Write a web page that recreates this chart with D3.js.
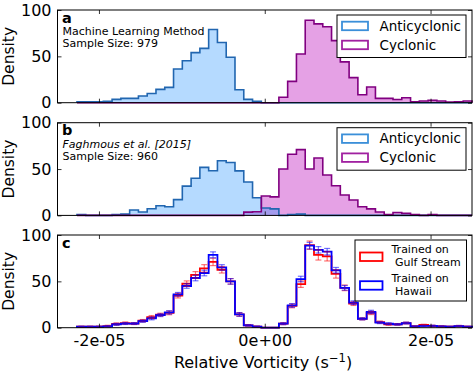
<!DOCTYPE html>
<html>
<head>
<meta charset="utf-8">
<script src="https://cdnjs.cloudflare.com/ajax/libs/d3/7.8.5/d3.min.js"></script>
<style>
body { margin: 0; background: #fff; }
svg { display: block; font-family: "DejaVu Sans", sans-serif; }
text { white-space: pre; }
</style>
</head>
<body>
<svg id="chart" width="474" height="373"></svg>
<script>
// shared histogram bins (same edges in all three panels)
var binStart = -2.265e-5, binWidth = 1.0589e-6, binCount = 45;

// panel a : machine learning method
var mlAnti = [1, 1, 1, 1.5, 3.6, 4.7, 4.7, 7.2, 10, 14.4,
  16.5, 36.3, 45.3, 54, 58.6, 79, 65, 49, 14, 3.6,
  1.5, 0, 0, 0, 0, 0, 0, 0, 0, 0,
  0, 0, 0, 0, 0, 0, 0, 0, 0, 0,
  0, 0, 0, 0, 0];
var mlCyc = [0, 0, 0, 0, 0, 0, 0, 0, 0, 0,
  0, 0, 0, 0, 0, 0, 0, 0, 0, 0,
  0, 0, 0, 5.8, 23, 52.5, 89, 85, 82, 67,
  44, 27, 8.5, 17, 4.7, 4.7, 3.5, 5.4, 1, 1.8,
  2.5, 1.8, 0.7, 1, 1.8];

// panel b : Faghmous et al. [2015]
var fagAnti = [1, 0, 0, 0, 1, 1.4, 5.8, 3.6, 7.2, 10.4,
  9.4, 17, 31.6, 40, 51.8, 48.2, 59, 57, 48, 36,
  19, 8, 7, 0, 1, 1.4, 0, 0, 0, 0,
  0, 0, 0, 0, 0, 0, 0, 0, 0, 0,
  0, 0, 0, 0, 0];
var fagCyc = [0, 0, 0, 0, 0, 0, 0, 0, 0, 0,
  0, 0, 0, 0, 0, 0, 0, 0, 0, 3.5,
  4, 21, 20, 50, 66, 71, 50, 62, 43.6, 32,
  22, 16.6, 9.4, 7, 3.6, 1, 3.2, 2.2, 1, 0,
  1, 0, 0, 0, 0];

// panel c : trained on Gulf Stream vs Hawaii
var gulf = [1, 1, 1, 1.8, 4, 5, 4.5, 7.5, 11.5, 14,
  16, 34.6, 47.5, 57, 64, 71, 62.5, 50, 14.3, 2.5,
  1.2, 0, 0, 4.3, 23.5, 47, 89, 78.5, 77, 58,
  43, 26, 9.6, 16, 6, 3.6, 3.6, 5, 1.4, 2.9,
  2, 1.4, 1, 1.8, 1];
var gulfErr = [0.5, 0.5, 0.5, 0.8, 1.2, 1.2, 1, 1.3, 1.6, 1.6,
  2, 2.5, 3, 3.5, 4, 4, 3.5, 3, 2, 0.8,
  0.5, 0, 0, 1, 2, 3.5, 4.5, 5.5, 5, 4.5,
  3, 2, 1.2, 1.8, 1.2, 1, 0.8, 1, 0.5, 0.8,
  0.7, 0.5, 0.4, 0.6, 0.4];
var hawaii = [1, 1, 1, 1.5, 3.6, 4.5, 4.5, 7, 10, 13.5,
  16.5, 36, 45, 53.6, 59, 78.6, 65, 50, 14.3, 2.5,
  1.2, 0, 0, 4.3, 24, 52.5, 88.5, 84, 82, 62,
  43, 27, 9.6, 17, 5.4, 4.3, 3.6, 5, 1.4, 2,
  2, 1.4, 1, 1.8, 1];
var hawaiiErr = [0.5, 0.5, 0.5, 0.7, 1, 1, 1, 1.2, 1.5, 1.5,
  1.8, 2, 2.5, 3, 3, 3.2, 3, 3, 2, 0.8,
  0.5, 0, 0, 1, 2, 3, 3.5, 3.5, 3.5, 3,
  2.5, 2, 1.2, 1.8, 1, 1, 0.8, 1, 0.5, 0.7,
  0.7, 0.5, 0.4, 0.6, 0.4];

var xTicks = [-2e-5, 0, 2e-5];
var xTickLabels = ["-2e-05", "0e+00", "2e-05"];
var yTicks = [0, 50, 100];

var svg = d3.select("#chart");
var left = 57.5, right = 472, panelH = 92.7;
var panelTops = [10, 122.7, 235];

var x = d3.scaleLinear().domain([-2.5e-5, 2.5e-5]).range([left, right]);
var edges = d3.range(binCount + 1).map(function(i) { return binStart + i * binWidth; });

function stepPath(y, vals) {
  var p = "M" + x(edges[0]) + "," + y(0);
  vals.forEach(function(v, i) {
    p += "L" + x(edges[i]) + "," + y(v) + "L" + x(edges[i + 1]) + "," + y(v);
  });
  return p + "L" + x(edges[binCount]) + "," + y(0);
}

function makePanel(top, letter, bottomLabels) {
  var y = d3.scaleLinear().domain([0, 100]).range([top + panelH, top]);
  var g = svg.append("g");
  var axes = svg.append("g");

  axes.append("g").attr("transform", "translate(0," + (top + panelH) + ")")
    .call(d3.axisBottom(x).tickValues(xTicks).tickSize(-4).tickPadding(7)
      .tickFormat(function(d, i) { return bottomLabels ? xTickLabels[i] : ""; }));
  axes.append("g").attr("transform", "translate(0," + top + ")")
    .call(d3.axisTop(x).tickValues(xTicks).tickSize(-4).tickFormat(""));
  axes.append("g").attr("transform", "translate(" + left + ",0)")
    .call(d3.axisLeft(y).tickValues(yTicks).tickSize(-4).tickPadding(6));
  axes.append("g").attr("transform", "translate(" + right + ",0)")
    .call(d3.axisRight(y).tickValues(yTicks).tickSize(-4).tickFormat(""));
  axes.selectAll(".domain").remove();
  axes.selectAll(".tick line").attr("stroke", "#000").attr("stroke-width", 0.8);
  axes.selectAll(".tick text").attr("font-size", 16).attr("font-family", "DejaVu Sans").attr("fill", "#000");
  axes.selectAll("g").attr("font-family", null).attr("font-size", null);

  axes.append("rect").attr("x", left).attr("y", top)
    .attr("width", right - left).attr("height", panelH)
    .attr("fill", "none").attr("stroke", "#000").attr("stroke-width", 1);

  svg.append("text").attr("transform", "translate(14," + (top + panelH / 2) + ") rotate(-90)")
    .attr("text-anchor", "middle").attr("font-size", 15.5).text("Density");

  svg.append("text").attr("x", left + 4.5).attr("y", top + 12.5)
    .attr("font-size", 14.5).attr("font-weight", "bold").text(letter);

  return {y: y, g: g, top: top};
}

function legend(top, x0, w, h, items, fontSize) {
  var lg = svg.append("g");
  lg.append("rect").attr("x", x0).attr("y", top).attr("width", w).attr("height", h)
    .attr("fill", "#fff").attr("stroke", "#000").attr("stroke-width", 1);
  items.forEach(function(it) {
    lg.append("rect").attr("x", it.px).attr("y", top + it.py).attr("width", it.pw).attr("height", 8.5)
      .attr("fill", "#fff").attr("stroke", it.color).attr("stroke-width", 1.8);
    it.lines.forEach(function(t, j) {
      lg.append("text").attr("x", it.tx).attr("y", top + it.ty[j])
        .attr("font-size", fontSize).text(t);
    });
  });
}

function histPanel(p, anti, cyc, title, italic, size) {
  p.g.append("path").attr("d", stepPath(p.y, cyc)).attr("fill", "rgba(190,20,190,0.4)").attr("stroke", "none");
  p.g.append("path").attr("d", stepPath(p.y, anti)).attr("fill", "rgba(30,144,255,0.33)").attr("stroke", "none");
  p.g.append("path").attr("d", stepPath(p.y, anti)).attr("fill", "none").attr("stroke", "#2166b0").attr("stroke-width", 1.6);
  p.g.append("path").attr("d", stepPath(p.y, cyc)).attr("fill", "none").attr("stroke", "#800080").attr("stroke-width", 1.6);

  svg.append("text").attr("x", left + 5).attr("y", p.top + 25)
    .attr("font-size", 11).attr("font-style", italic ? "italic" : "normal").text(title);
  svg.append("text").attr("x", left + 5).attr("y", p.top + 37)
    .attr("font-size", 11).text("Sample Size: " + size);

  legend(p.top + 5, 337, 129, 42.5, [
    {color: "#3b8fd9", px: 342, py: 6.7, pw: 26, tx: 379.5, ty: [15.5], lines: ["Anticyclonic"]},
    {color: "#a020a0", px: 342, py: 25.7, pw: 26, tx: 379.5, ty: [34.5], lines: ["Cyclonic"]}
  ], 13.5);
}

var pa = makePanel(panelTops[0], "a", false);
histPanel(pa, mlAnti, mlCyc, "Machine Learning Method", false, 979);

var pb = makePanel(panelTops[1], "b", false);
histPanel(pb, fagAnti, fagCyc, "Faghmous et al. [2015]", true, 960);

var pc = makePanel(panelTops[2], "c", true);
pc.g.append("path").attr("d", stepPath(pc.y, gulf)).attr("fill", "none").attr("stroke", "#ff0000").attr("stroke-width", 1.8);
pc.g.append("path").attr("d", stepPath(pc.y, hawaii)).attr("fill", "none").attr("stroke", "#0000ff").attr("stroke-width", 1.8);

function errorBars(vals, errs, color) {
  var eg = pc.g.append("g").attr("stroke", color).attr("stroke-opacity", 0.55).attr("stroke-width", 1.2);
  vals.forEach(function(v, i) {
    if (!errs[i]) return;
    var cx = x(edges[i] + binWidth / 2);
    var y1 = pc.y(v - errs[i]), y2 = pc.y(v + errs[i]);
    eg.append("line").attr("x1", cx).attr("x2", cx).attr("y1", y1).attr("y2", y2);
    eg.append("line").attr("x1", cx - 3).attr("x2", cx + 3).attr("y1", y1).attr("y2", y1);
    eg.append("line").attr("x1", cx - 3).attr("x2", cx + 3).attr("y1", y2).attr("y2", y2);
  });
}
errorBars(gulf, gulfErr, "#ff0000");
errorBars(hawaii, hawaiiErr, "#0000ff");

legend(pc.top + 5, 355, 111.5, 61, [
  {color: "#ff0000", px: 360, py: 12.5, pw: 22.5, tx: 391.5, ty: [13.3, 25.5], lines: ["Trained on", " Gulf Stream"]},
  {color: "#0000ff", px: 360, py: 41.2, pw: 22.5, tx: 391.5, ty: [42.3, 55], lines: ["Trained on", " Hawaii"]}
], 11);

var xl = svg.append("text").attr("x", 263).attr("y", 367.5).attr("text-anchor", "middle").attr("font-size", 16);
xl.append("tspan").text("Relative Vorticity (s");
xl.append("tspan").attr("dy", -6).attr("font-size", 11.5).text("\u22121");
xl.append("tspan").attr("dy", 6).text(")");
</script>
</body>
</html>
